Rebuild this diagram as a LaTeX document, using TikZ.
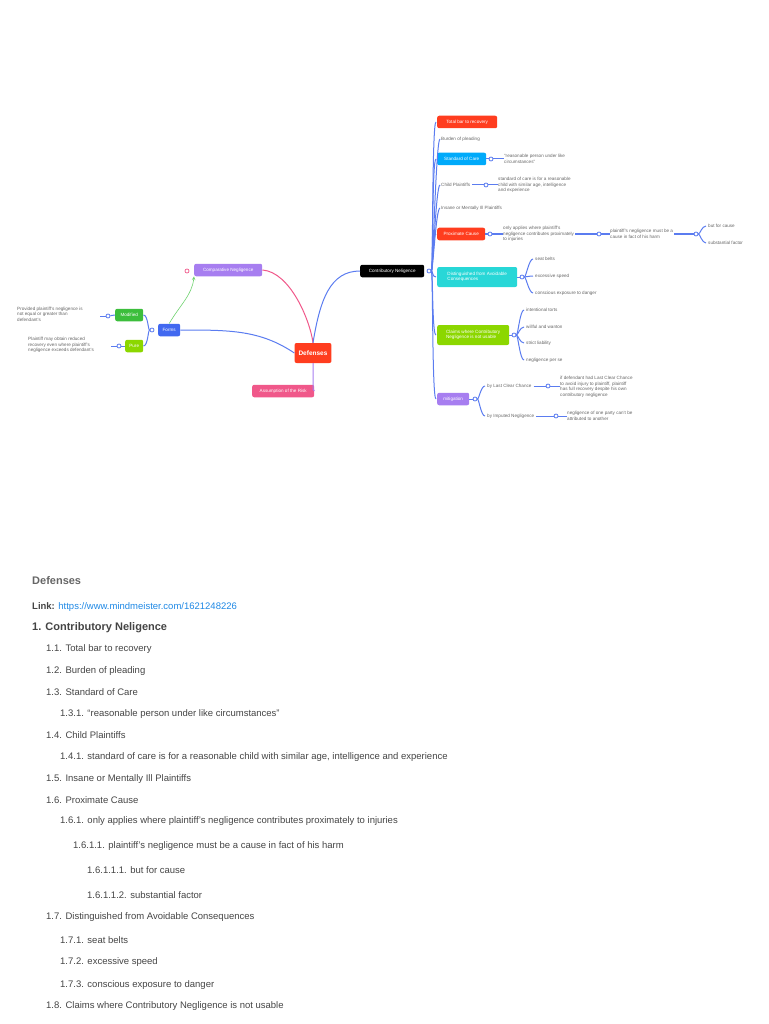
\documentclass[tikz,border=0pt]{standalone}
\usepackage{fontspec}
\setmainfont{Liberation Sans}
\definecolor{lnk}{HTML}{5B7CF0}
\definecolor{tx}{HTML}{444444}
\definecolor{mt}{HTML}{666666}
\definecolor{cred}{RGB}{255,61,31}
\definecolor{cpink}{RGB}{240,88,138}
\definecolor{cpur}{RGB}{167,126,240}
\definecolor{cblu}{RGB}{66,105,240}
\definecolor{cgrn}{RGB}{60,190,60}
\definecolor{clime}{RGB}{140,215,0}
\definecolor{csky}{RGB}{0,170,250}
\definecolor{cteal}{RGB}{40,215,215}
\definecolor{cmint}{RGB}{110,210,110}
\definecolor{curl}{HTML}{1E88E5}
\begin{document}
\begin{tikzpicture}[x=1pt,y=-1pt,
 box/.style={rounded corners=2pt,text=white,font=\fontsize{4.6}{5.5}\selectfont,inner sep=2pt,align=left,anchor=west,minimum height=12.5pt},
 t/.style={text=mt,font=\fontsize{4.6}{5.5}\selectfont,inner sep=0pt,align=left,anchor=west},
 dot/.style={circle,draw=lnk,fill=white,line width=0.8pt,inner sep=0pt,minimum size=4pt},
 ln/.style={draw=lnk,line width=1pt},
 item/.style={text=tx,font=\fontsize{9.5}{11}\selectfont,anchor=west,inner sep=0pt}]
\useasboundingbox (0,0) rectangle (768,1024);
% central
\node[box,anchor=center,fill=cred,font=\bfseries\fontsize{6.5}{8}\selectfont,minimum height=20pt,inner sep=4pt] (def) at (313,353) {Defenses};
\node[box,fill=black,minimum width=64pt] (cn) at (360,271) {Contributory Neligence};
\node[box,fill=cpur,minimum width=68pt] (cp) at (194,270) {Comparative Negligence};
\node[box,fill=cpink,minimum width=62pt] (ar) at (252,391) {Assumption of the Risk};
\node[circle,draw=cpink,line width=0.7pt,inner sep=0pt,minimum size=4pt] (pk) at (187,271) {};
\draw[cpink,line width=1pt] (cp.east) .. controls (290,272) and (310,320) .. (def.north);
\draw[cpur,line width=1pt] (def.south) -- ++(0,26) -- (ar.east);
\draw[ln] (def.north) .. controls (320,300) and (330,271) .. (cn.west);
% forms
\node[box,fill=cblu,minimum width=22pt] (fo) at (158,330) {Forms};
\draw[ln] (fo.east) .. controls (230,330) and (260,330) .. (def.west);
\draw[cmint,line width=0.6pt,-stealth] (fo.north) .. controls (180,305) and (192,295) .. (cp.south west);
\node[dot] (fd) at (152,330) {};
\node[box,fill=cgrn,minimum width=28pt] (mo) at (115,315) {Modified};
\node[box,fill=clime,minimum width=18pt] (pu) at (125,346) {Pure};
\draw[ln] (fd) .. controls (148,330) and (148,315) .. (mo.east);
\draw[ln] (fd) .. controls (148,330) and (148,346) .. (pu.east);
\node[dot] (md) at (108,316) {};
\node[dot] (pd) at (119,346) {};
\draw[ln] (md) -- (mo.west); \draw[ln] (pd) -- (pu.west);
\draw[ln] (md) -- ++(-8,0); \draw[ln] (pd) -- ++(-8,0);
\node[t] (mt1) at (17,314) {Provided plaintiff's negligence is\\not equal or greater than\\defendant's};
\node[t] (pt1) at (28,345) {Plaintiff may obtain reduced\\recovery even where plaintiff's\\negligence exceeds defendant's};
% contributory children
\node[dot] (cd) at (429,271) {};
\node[box,fill=cred,minimum width=60pt] (c1) at (437,122) {Total bar to recovery};
\node[t] (c2) at (441,139) {Burden of pleading};
\node[box,fill=csky,minimum width=49pt] (c3) at (437,159) {Standard of Care};
\node[t] (c4) at (441,185) {Child Plaintiffs};
\node[t] (c5) at (441,208) {Insane or Mentally Ill Plaintiffs};
\node[box,fill=cred,minimum width=48pt] (c6) at (437,234) {Proximate Cause};
\node[box,fill=cteal,minimum width=80pt,minimum height=20pt] (c7) at (437,277) {Distinguished from Avoidable\\Consequences};
\node[box,fill=clime,minimum width=72pt,minimum height=20pt] (c8) at (437,335) {Claims where Contributory\\Negligence is not usable};
\node[box,fill=cpur,minimum width=32pt] (c9) at (437,399) {mitigation};
\foreach \n in {c1,c2,c3,c4,c5,c6,c7,c8,c9}
 \draw[ln] (cd) .. controls +(4,0) and +(-4,0) .. ([xshift=-1pt]\n.west);
% standard of care
\node[dot] (d3) at (491,159) {};
\node[t] (s1) at (504,159) {``reasonable person under like\\circumstances''};
\draw[ln] (c3.east) -- (d3) -- (s1.west);
\node[dot] (d4) at (486,185) {};
\node[t] (s2) at (498,185) {standard of care is for a reasonable\\child with similar age, intelligence\\and experience};
\draw[ln] ([xshift=2pt]c4.east) -- (d4) -- (s2.west);
% proximate
\node[dot] (d6) at (490,234) {};
\node[t] (p1) at (503,234) {only applies where plaintiff's\\negligence contributes proximately\\to injuries};
\draw[ln] (c6.east) -- (d6) -- (p1.west);
\node[dot] (d61) at (599,234) {};
\node[t] (p2) at (610,234) {plaintiff's negligence must be a\\cause in fact of his harm};
\draw[ln] ([xshift=1pt]p1.east) -- (d61) -- (p2.west);
\node[dot] (d62) at (696,234) {};
\draw[ln] ([xshift=1pt]p2.east) -- (d62);
\node[t] (p3) at (708,226) {but for cause};
\node[t] (p4) at (708,243) {substantial factor};
\foreach \n in {p3,p4} \draw[ln] (d62) .. controls +(4,0) and +(-4,0) .. ([xshift=-2pt]\n.west);
% distinguished
\node[dot] (d7) at (522,277) {};
\draw[ln] (c7.east) -- (d7);
\node[t] (a1) at (535,259) {seat belts};
\node[t] (a2) at (535,276) {excessive speed};
\node[t] (a3) at (535,293) {conscious exposure to danger};
\foreach \n in {a1,a2,a3} \draw[ln] (d7) .. controls +(4,0) and +(-4,0) .. ([xshift=-2pt]\n.west);
% claims
\node[dot] (d8) at (514,335) {};
\draw[ln] (c8.east) -- (d8);
\node[t] (b1) at (526,310) {intentional torts};
\node[t] (b2) at (526,327) {willful and wanton};
\node[t] (b3) at (526,343) {strict liability};
\node[t] (b4) at (526,360) {negligence per se};
\foreach \n in {b1,b2,b3,b4} \draw[ln] (d8) .. controls +(4,0) and +(-4,0) .. ([xshift=-2pt]\n.west);
% mitigation
\node[dot] (d9) at (475,399) {};
\draw[ln] (c9.east) -- (d9);
\node[t] (m1) at (487,386) {by Last Clear Chance};
\node[t] (m2) at (487,416) {by Imputed Negligence};
\foreach \n in {m1,m2} \draw[ln] (d9) .. controls +(4,0) and +(-4,0) .. ([xshift=-2pt]\n.west);
\node[dot] (d91) at (548,386) {};
\node[t] (m3) at (560,387) {if defendant had Last Clear Chance\\to avoid injury to plaintiff, plaintiff\\has full recovery despite his own\\contributory negligence};
\draw[ln] ([xshift=2pt]m1.east) -- (d91) -- (m3.west |- d91);
\node[dot] (d92) at (556,416) {};
\node[t] (m4) at (567,416) {negligence of one party can't be\\attributed to another};
\draw[ln] ([xshift=2pt]m2.east) -- (d92) -- (m4.west);
% text outline
\node[item,font=\bfseries\fontsize{11}{13}\selectfont,text=mt] (h1) at (32,581) {Defenses};
\node[item] (h2) at (32,607) {\textbf{Link:} \textcolor{curl}{https://www.mindmeister.com/1621248226}};
\node[item,font=\bfseries\fontsize{11}{13}\selectfont] (h3) at (32,628) {1. Contributory Neligence};
\node[item] (i1) at (46,649) {1.1. Total bar to recovery};
\node[item] (i2) at (46,671) {1.2. Burden of pleading};
\node[item] (i3) at (46,692) {1.3. Standard of Care};
\node[item] (i4) at (60,714) {1.3.1. ``reasonable person under like circumstances''};
\node[item] (i5) at (46,735) {1.4. Child Plaintiffs};
\node[item] (i6) at (60,757) {1.4.1. standard of care is for a reasonable child with similar age, intelligence and experience};
\node[item] (i7) at (46,779) {1.5. Insane or Mentally Ill Plaintiffs};
\node[item] (i8) at (46,800) {1.6. Proximate Cause};
\node[item] (i9) at (60,821) {1.6.1. only applies where plaintiff's negligence contributes proximately to injuries};
\node[item] (i10) at (73,846) {1.6.1.1. plaintiff's negligence must be a cause in fact of his harm};
\node[item] (i11) at (87,870) {1.6.1.1.1. but for cause};
\node[item] (i12) at (87,895) {1.6.1.1.2. substantial factor};
\node[item] (i13) at (46,917) {1.7. Distinguished from Avoidable Consequences};
\node[item] (i14) at (60,940) {1.7.1. seat belts};
\node[item] (i15) at (60,962) {1.7.2. excessive speed};
\node[item] (i16) at (60,985) {1.7.3. conscious exposure to danger};
\node[item] (i17) at (46,1006) {1.8. Claims where Contributory Negligence is not usable};
\end{tikzpicture}
\end{document}
